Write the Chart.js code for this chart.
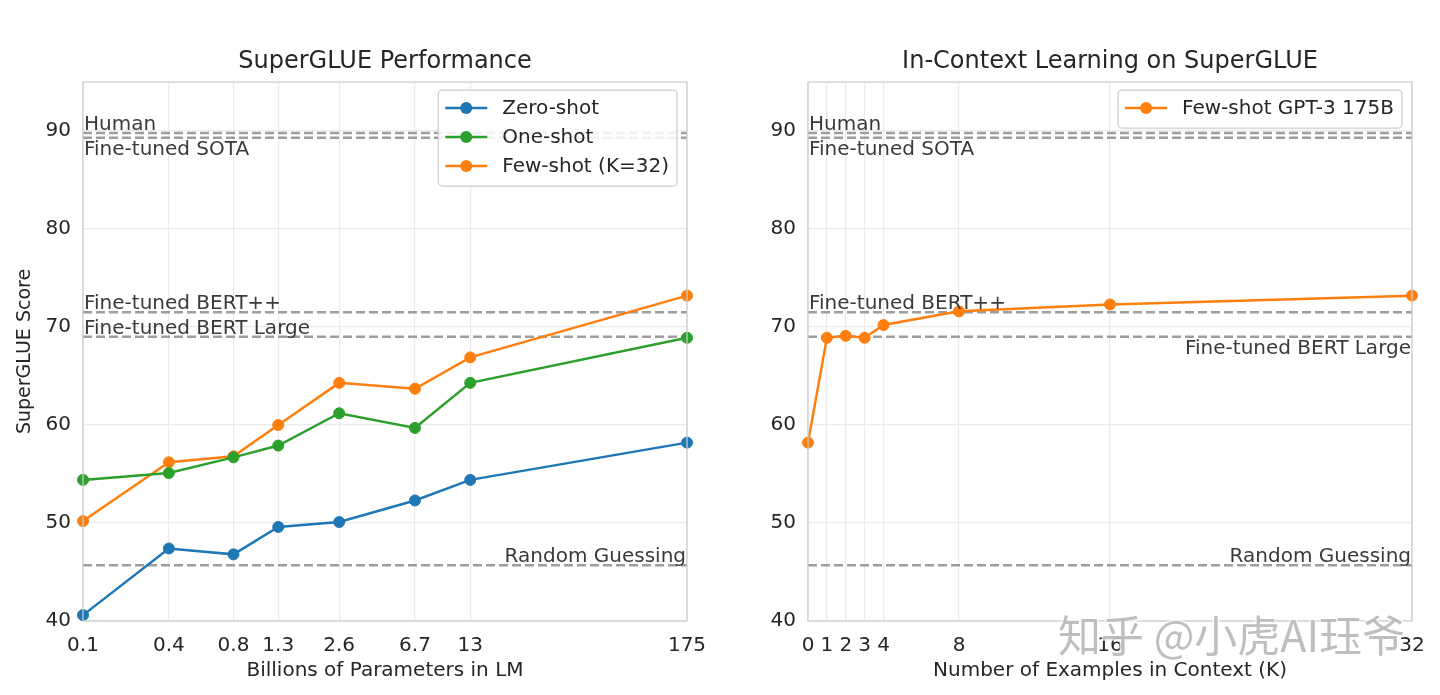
<!DOCTYPE html>
<html>
<head>
<meta charset="utf-8">
<script src="https://cdn.jsdelivr.net/npm/chart.js@4.4.0/dist/chart.umd.min.js"></script>
<style>
  body { margin: 0; background: #fff; width: 1440px; height: 695px; overflow: hidden; position: relative; }
  .box { position: absolute; top: 0; width: 720px; height: 695px; }
</style>
</head>
<body>
<div class="box" style="left:0"><canvas id="left" width="720" height="695"></canvas></div>
<div class="box" style="left:720px"><canvas id="right" width="720" height="695"></canvas></div>
<script>
// model sizes (billions) where points sit, and how the ticks are labelled
const paramTicks = [0.125, 0.35, 0.76, 1.3, 2.7, 6.7, 13, 175];
const paramLabels = ['0.1', '0.4', '0.8', '1.3', '2.6', '6.7', '13', '175'];
const zeroShot = [40.6, 47.4, 46.8, 49.6, 50.1, 52.3, 54.4, 58.2];
const oneShot = [54.4, 55.1, 56.7, 57.9, 61.2, 59.7, 64.3, 68.9];
const fewShot = [50.2, 56.2, 56.8, 60.0, 64.3, 63.7, 66.9, 73.2];

// in-context examples
const kTicks = [0, 1, 2, 3, 4, 8, 16, 32];
const fewShotK = [58.2, 68.9, 69.1, 68.9, 70.2, 71.6, 72.3, 73.2];

const yTicks = [40, 50, 60, 70, 80, 90];

const refNames = ['Human', 'Fine-tuned SOTA', 'Fine-tuned BERT++', 'Fine-tuned BERT Large', 'Random Guessing'];
const refValues = [89.8, 89.3, 71.5, 69.0, 45.7];

const textColor = '#262626';
Chart.defaults.font.family = 'DejaVu Sans';
Chart.defaults.color = textColor;

const decor = {
  id: 'decor',
  beforeDatasetsDraw(chart, args, o) {
    const { ctx, chartArea: a, scales: { y } } = chart;
    ctx.save();
    ctx.strokeStyle = '#9e9e9e';
    ctx.lineWidth = 2.5;
    ctx.setLineDash([9, 4]);
    refValues.forEach(v => {
      const py = y.getPixelForValue(v);
      ctx.beginPath();
      ctx.moveTo(a.left, py);
      ctx.lineTo(a.right, py);
      ctx.stroke();
    });
    ctx.restore();
  },
  afterDraw(chart, args, o) {
    const { ctx, chartArea: a, scales: { y } } = chart;
    ctx.save();
    // frame
    ctx.strokeStyle = '#cccccc';
    ctx.lineWidth = 1.25;
    ctx.strokeRect(a.left, a.top, a.right - a.left, a.bottom - a.top);

    // reference labels
    ctx.font = '20px "DejaVu Sans"';
    ctx.fillStyle = '#3a3a3a';
    refNames.forEach((name, i) => {
      const py = y.getPixelForValue(refValues[i]);
      const p = o.placement[i];
      ctx.textAlign = p[0] === 'l' ? 'left' : 'right';
      const px = p[0] === 'l' ? a.left + 1 : a.right - 1;
      if (p[1] === 'a') { ctx.textBaseline = 'alphabetic'; ctx.fillText(name, px, py - 3); }
      else { ctx.textBaseline = 'top'; ctx.fillText(name, px, py + 2); }
    });

    // title
    ctx.font = '24px "DejaVu Sans"';
    ctx.fillStyle = textColor;
    ctx.textAlign = 'center';
    ctx.textBaseline = 'middle';
    ctx.fillText(o.title, (a.left + a.right) / 2, 62);

    // legend inside the plot, top right
    ctx.font = '20px "DejaVu Sans"';
    const sets = chart.data.datasets;
    const tw = Math.max(...sets.map(d => ctx.measureText(d.label).width));
    const bw = 64 + tw + 8, bh = 18 + 29 * (sets.length - 1) + 20;
    const bx = a.right - 10 - bw, by = a.top + 8;
    ctx.fillStyle = 'rgba(255,255,255,0.85)';
    ctx.strokeStyle = '#cccccc';
    ctx.lineWidth = 1.25;
    ctx.beginPath();
    ctx.roundRect(bx, by, bw, bh, 4);
    ctx.fill();
    ctx.stroke();
    sets.forEach((d, i) => {
      const cy = by + 18 + i * 29;
      ctx.strokeStyle = d.borderColor;
      ctx.lineWidth = 2.5;
      ctx.beginPath();
      ctx.moveTo(bx + 7, cy);
      ctx.lineTo(bx + 49, cy);
      ctx.stroke();
      ctx.fillStyle = d.borderColor;
      ctx.beginPath();
      ctx.arc(bx + 28, cy, 6, 0, Math.PI * 2);
      ctx.fill();
      ctx.fillStyle = textColor;
      ctx.textAlign = 'left';
      ctx.textBaseline = 'middle';
      ctx.fillText(d.label, bx + 64, cy + 1);
    });

    if (o.mark) {
      ctx.font = '43px "Noto Sans CJK SC"';
      ctx.textAlign = 'left';
      ctx.textBaseline = 'alphabetic';
      ctx.lineWidth = 3;
      ctx.strokeStyle = 'rgba(255,255,255,0.8)';
      ctx.strokeText(o.mark, 338, 652);
      ctx.fillStyle = 'rgba(170,170,170,0.75)';
      ctx.fillText(o.mark, 338, 652);
    }
    ctx.restore();
  }
};

const series = (label, data, color, xs) => ({
  label,
  data: data.map((v, i) => ({ x: xs[i], y: v })),
  borderColor: color,
  backgroundColor: color,
  pointBackgroundColor: color,
  pointBorderColor: color,
  borderWidth: 2.5,
  pointRadius: 5.5,
  pointBorderWidth: 1,
  clip: false
});

const yScale = (width, withTitle) => ({
  min: 40, max: 95,
  afterBuildTicks: s => { s.ticks = yTicks.map(v => ({ value: v })); },
  afterFit: s => { s.width = width; },
  grid: { color: '#ebebeb', lineWidth: 1.2, drawTicks: false },
  border: { display: false },
  ticks: { padding: 12, font: { size: 20 }, color: textColor },
  title: { display: withTitle, text: 'SuperGLUE Score', font: { size: 19 }, color: textColor, padding: { top: 14, bottom: 0 } }
});

const xCommon = (ticks, labels, title) => ({
  afterBuildTicks: s => { s.ticks = ticks.map(v => ({ value: v })); },
  afterFit: s => { s.height = 74; },
  grid: { color: '#ebebeb', lineWidth: 1.2, drawTicks: false },
  border: { display: false },
  ticks: { autoSkip: false, maxRotation: 0, padding: 13, font: { size: 20 }, color: textColor,
           callback: (v, i) => labels[i] },
  title: { display: true, text: title, font: { size: 20 }, color: textColor, padding: { top: 0, bottom: 12 } }
});

new Chart(document.getElementById('left'), {
  type: 'line',
  data: {
    datasets: [
      series('Zero-shot', zeroShot, '#1f77b4', paramTicks),
      series('One-shot', oneShot, '#2ca02c', paramTicks),
      series('Few-shot (K=32)', fewShot, '#ff7f0e', paramTicks)
    ]
  },
  options: {
    responsive: false,
    animation: false,
    layout: { padding: { top: 82, right: 33, left: 0, bottom: 0 } },
    plugins: {
      legend: { display: false },
      tooltip: { enabled: false },
      decor: {
        title: 'SuperGLUE Performance',
        placement: ['la', 'lb', 'la', 'la', 'ra']
      }
    },
    scales: {
      x: Object.assign({ type: 'logarithmic', min: 0.125, max: 175 },
        xCommon(paramTicks, paramLabels, 'Billions of Parameters in LM')),
      y: yScale(83, true)
    }
  },
  plugins: [decor]
});

new Chart(document.getElementById('right'), {
  type: 'line',
  data: {
    datasets: [series('Few-shot GPT-3 175B', fewShotK, '#ff7f0e', kTicks)]
  },
  options: {
    responsive: false,
    animation: false,
    layout: { padding: { top: 82, right: 28, left: 0, bottom: 0 } },
    plugins: {
      legend: { display: false },
      tooltip: { enabled: false },
      decor: {
        title: 'In-Context Learning on SuperGLUE',
        placement: ['la', 'lb', 'la', 'rb', 'ra'],
        mark: '知乎 @小虎AI珏爷'
      }
    },
    scales: {
      x: Object.assign({ type: 'linear', min: 0, max: 32 },
        xCommon(kTicks, kTicks.map(String), 'Number of Examples in Context (K)')),
      y: yScale(88, false)
    }
  },
  plugins: [decor]
});
</script>
</body>
</html>
